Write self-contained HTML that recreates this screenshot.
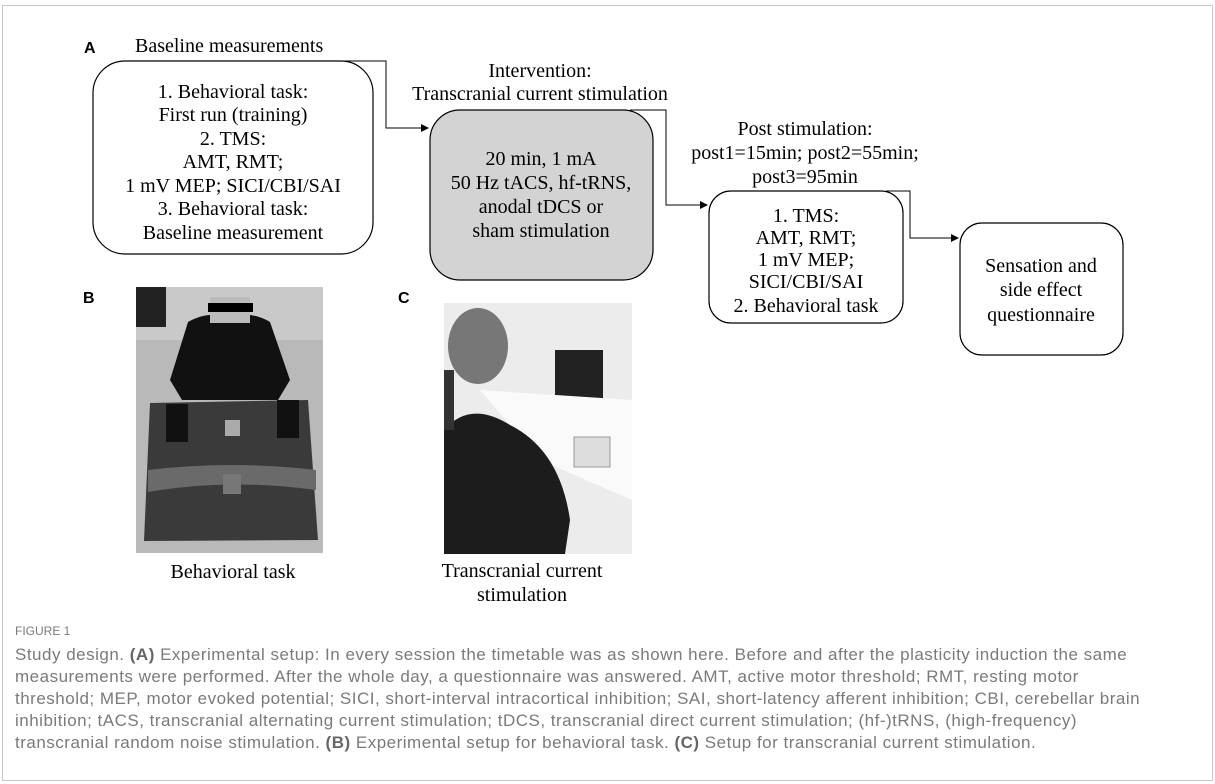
<!DOCTYPE html>
<html><head><meta charset="utf-8"><style>
html,body{margin:0;padding:0;background:#fff;width:1215px;height:784px;overflow:hidden}
.frame{position:absolute;left:2px;top:5px;width:1209px;height:774px;border:1px solid #c8c8c8}
svg{position:absolute;left:0;top:0}
.t{font-family:"Liberation Serif",serif;font-size:20px;fill:#000}
.cap{position:absolute;left:15px;font-family:"Liberation Sans",sans-serif;color:#7a7a7a;white-space:nowrap}
</style></head><body>
<div class="frame"></div>
<svg width="1215" height="784" viewBox="0 0 1215 784">
<defs><marker id="ar" markerWidth="8" markerHeight="8" refX="7" refY="4" orient="auto" markerUnits="userSpaceOnUse"><path d="M0,0 L8,4 L0,8 z" fill="#000"/></marker></defs>
<g font-family="Liberation Sans,sans-serif" font-weight="bold" font-size="16">
<text x="84" y="53">A</text><text x="83" y="303">B</text><text x="398" y="303">C</text></g>
<text class="t" x="135" y="52">Baseline measurements</text>
<rect x="93" y="61" width="280" height="193" rx="32" fill="#fff" stroke="#000" stroke-width="1.2"/>
<g class="t" text-anchor="middle">
<text x="233" y="98">1. Behavioral task:</text>
<text x="233" y="121">First run (training)</text>
<text x="233" y="145">2. TMS:</text>
<text x="233" y="168">AMT, RMT;</text>
<text x="233" y="192">1 mV MEP; SICI/CBI/SAI</text>
<text x="233" y="215">3. Behavioral task:</text>
<text x="233" y="239">Baseline measurement</text>
<text x="540" y="77">Intervention:</text>
<text x="540" y="100">Transcranial current stimulation</text>
</g>
<polyline points="345,61 386,61 386,128 428,128" fill="none" stroke="#000" stroke-width="1" marker-end="url(#ar)"/>
<rect x="430" y="110" width="223" height="170" rx="30" fill="#d3d3d3" stroke="#000" stroke-width="1.2"/>
<g class="t" text-anchor="middle">
<text x="541" y="165">20 min, 1 mA</text>
<text x="541" y="189">50 Hz tACS, hf-tRNS,</text>
<text x="541" y="213">anodal tDCS or</text>
<text x="541" y="237">sham stimulation</text>
<text x="805" y="135">Post stimulation:</text>
<text x="805" y="159">post1=15min; post2=55min;</text>
<text x="805" y="183">post3=95min</text>
</g>
<polyline points="630,110 666,110 666,205 707,205" fill="none" stroke="#000" stroke-width="1" marker-end="url(#ar)"/>
<rect x="709" y="191" width="194" height="132" rx="22" fill="#fff" stroke="#000" stroke-width="1.2"/>
<g class="t" text-anchor="middle">
<text x="806" y="222">1. TMS:</text>
<text x="806" y="244">AMT, RMT;</text>
<text x="806" y="266">1 mV MEP;</text>
<text x="806" y="288">SICI/CBI/SAI</text>
<text x="806" y="312">2. Behavioral task</text>
</g>
<polyline points="886,191 910,191 910,238 958,238" fill="none" stroke="#000" stroke-width="1" marker-end="url(#ar)"/>
<rect x="960" y="223" width="163" height="132" rx="22" fill="#fff" stroke="#000" stroke-width="1.2"/>
<g class="t" text-anchor="middle">
<text x="1041" y="272">Sensation and</text>
<text x="1041" y="296">side effect</text>
<text x="1041" y="321">questionnaire</text>
<text x="233" y="578">Behavioral task</text>
<text x="522" y="577">Transcranial current</text>
<text x="522" y="601">stimulation</text>
</g>
<!-- photo B -->
<rect x="136" y="287" width="187" height="266" fill="#c9c9c9"/>
<rect x="136" y="287" width="30" height="40" fill="#222"/>
<rect x="136" y="340" width="187" height="213" fill="#b9b9b9"/>
<path d="M188,322 Q210,310 228,318 Q250,310 270,322 L290,380 L278,400 L182,400 L170,380 Z" fill="#111"/>
<rect x="210" y="297" width="40" height="26" fill="#bbb"/>
<rect x="208" y="303" width="45" height="9" fill="#000"/>
<path d="M150,403 L308,400 L318,540 L144,541 Z" fill="#3a3a3a"/>
<path d="M148,470 Q230,460 316,470 L316,490 Q230,478 148,492 Z" fill="#6a6a6a"/>
<rect x="166" y="404" width="22" height="38" fill="#111"/>
<rect x="277" y="400" width="22" height="38" fill="#111"/>
<rect x="225" y="420" width="15" height="16" fill="#aaa"/>
<rect x="223" y="474" width="18" height="20" fill="#777"/>
<!-- photo C -->
<rect x="444" y="303" width="188" height="251" fill="#ececec"/>
<rect x="555" y="350" width="48" height="55" fill="#222"/>
<path d="M480,390 L632,400 L632,500 L540,460 Z" fill="#fafafa"/>
<path d="M444,430 Q470,400 510,425 Q560,450 570,520 L565,554 L444,554 Z" fill="#1c1c1c"/>
<ellipse cx="478" cy="346" rx="30" ry="38" fill="#777"/>
<rect x="444" y="370" width="10" height="60" fill="#333"/>
<rect x="574" y="437" width="36" height="30" fill="#ddd" stroke="#999"/>
</svg>
<div class="cap" style="top:624px;font-size:12px;">FIGURE 1</div>
<div class="cap" style="top:644px;font-size:17px;line-height:22px;letter-spacing:0.5px">
Study design. <b style="color:#666">(A)</b> Experimental setup: In every session the timetable was as shown here. Before and after the plasticity induction the same<br>
measurements were performed. After the whole day, a questionnaire was answered. AMT, active motor threshold; RMT, resting motor<br>
threshold; MEP, motor evoked potential; SICI, short-interval intracortical inhibition; SAI, short-latency afferent inhibition; CBI, cerebellar brain<br>
inhibition; tACS, transcranial alternating current stimulation; tDCS, transcranial direct current stimulation; (hf-)tRNS, (high-frequency)<br>
transcranial random noise stimulation. <b style="color:#666">(B)</b> Experimental setup for behavioral task. <b style="color:#666">(C)</b> Setup for transcranial current stimulation.
</div>
</body></html>
